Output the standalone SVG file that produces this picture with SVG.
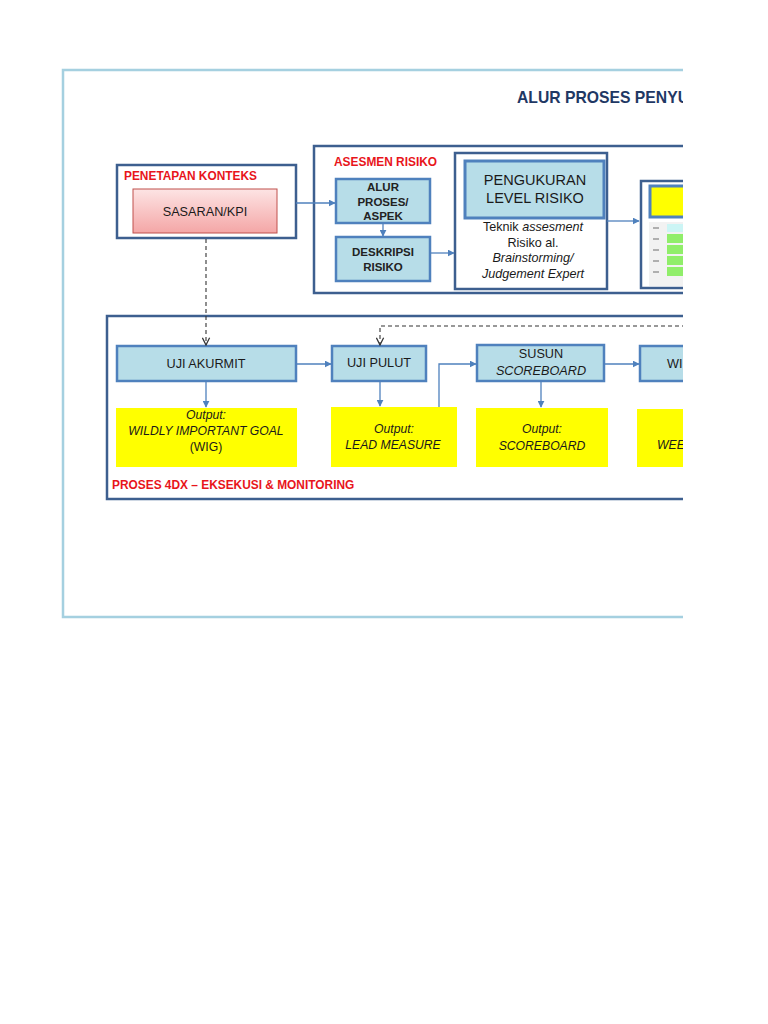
<svg xmlns="http://www.w3.org/2000/svg" width="768" height="1024" viewBox="0 0 768 1024">
<style>
.frame{fill:none;stroke:#a5d0e0;stroke-width:2.5}
.group{fill:#fff;stroke:#3d5f8f;stroke-width:2.5}
.step{fill:#b7dde8;stroke:#4f81bd;stroke-width:2.5}
.out{fill:#ffff00;stroke:none}
.t{font-family:"Liberation Sans",Arial,sans-serif;fill:#1a1a1a;text-anchor:middle}
.s{font-size:12.7px}
.o{font-size:12.2px;font-style:italic}
.red{font-family:"Liberation Sans",Arial,sans-serif;font-weight:bold;fill:#e8151b;font-size:11.9px}
.con{fill:none;stroke:#4f81bd;stroke-width:1.3}
.dash{fill:none;stroke:#333;stroke-width:1.1;stroke-dasharray:4 3}
</style>
<defs>
<marker id="ah" viewBox="0 0 10 10" refX="9" refY="5" markerWidth="7" markerHeight="7" orient="auto" markerUnits="userSpaceOnUse">
<path d="M0,0 L10,5 L0,10 z" fill="#4f81bd"/>
</marker>
<marker id="oh" viewBox="0 0 10 10" refX="9" refY="5" markerWidth="9" markerHeight="9" orient="auto" markerUnits="userSpaceOnUse">
<path d="M1,1 L9,5 L1,9" fill="none" stroke="#333" stroke-width="1.4"/>
</marker>
<linearGradient id="pink" x1="0" y1="0" x2="0" y2="1">
<stop offset="0" stop-color="#fde4e4"/>
<stop offset="1" stop-color="#f4a6a6"/>
</linearGradient>
<clipPath id="cl"><rect x="0" y="0" width="683" height="1024"/></clipPath>
</defs>
<rect width="768" height="1024" fill="#fff"/>
<g clip-path="url(#cl)">
<g id="frame">
<path class="frame" d="M700,70 H63 V617 H700"/>
<text x="517" y="103" textLength="172" lengthAdjust="spacingAndGlyphs" style="font-family:'Liberation Sans',Arial,sans-serif;font-weight:bold;font-size:17px;fill:#1f3864">ALUR PROSES PENYU</text>
</g>

<g id="penetapan">
<rect class="group" x="117" y="165" width="179" height="73"/>
<text x="124" y="180" class="red">PENETAPAN KONTEKS</text>
</g>
<g id="sasaran">
<rect x="133" y="189" width="144" height="44" fill="url(#pink)" stroke="#c0504d" stroke-width="1"/>
<text x="205" y="216" class="t s">SASARAN/KPI</text>
</g>

<g id="asesmen">
<rect class="group" x="314" y="146" width="400" height="147"/>
<text x="334" y="166" class="red">ASESMEN RISIKO</text>
</g>
<g id="alur">
<rect class="step" x="336" y="179" width="94" height="44"/>
<text class="t" style="font-size:11.5px;font-weight:bold;fill:#222"><tspan x="383" y="191">ALUR</tspan><tspan x="383" y="205.5">PROSES/</tspan><tspan x="383" y="220">ASPEK</tspan></text>
</g>
<g id="deskripsi">
<rect class="step" x="336" y="237" width="94" height="44"/>
<text class="t" style="font-size:11.5px;font-weight:bold;fill:#222"><tspan x="383" y="256">DESKRIPSI</tspan><tspan x="383" y="271">RISIKO</tspan></text>
</g>
<g id="pengukuran">
<rect class="group" x="455" y="153" width="152" height="136"/>
<rect x="465" y="161" width="139" height="57" fill="#b7dde8" stroke="#4f81bd" stroke-width="3"/>
<text class="t" style="font-size:14.5px"><tspan x="535" y="185">PENGUKURAN</tspan><tspan x="535" y="203">LEVEL RISIKO</tspan></text>
<text class="t" style="font-size:12.6px"><tspan x="533" y="231">Teknik <tspan font-style="italic">assesment</tspan></tspan><tspan x="533" y="246.5">Risiko al.</tspan><tspan x="533" y="262" font-style="italic">Brainstorming/</tspan><tspan x="533" y="277.5" font-style="italic">Judgement Expert</tspan></text>
</g>
<g id="matriks">
<rect class="group" x="641" y="181" width="80" height="107"/>
<rect x="650" y="186" width="60" height="31" fill="#ffff00" stroke="#4f81bd" stroke-width="3"/>
<rect x="649" y="222" width="40" height="64" fill="#f2f2f2"/>
<rect x="667" y="224" width="20" height="8" fill="#ccf5f5"/>
<rect x="667" y="234" width="20" height="9" fill="#90ee6a"/>
<rect x="667" y="245" width="20" height="9" fill="#90ee6a"/>
<rect x="667" y="256" width="20" height="9" fill="#90ee6a"/>
<rect x="667" y="267" width="20" height="9" fill="#90ee6a"/>
<path d="M653,228 h6 M653,239 h6 M653,250 h6 M653,261 h6 M653,272 h6" stroke="#999" stroke-width="1.5"/>
</g>

<g id="proses4dx">
<rect class="group" x="107" y="316" width="620" height="183"/>
<text x="112" y="489" class="red">PROSES 4DX – EKSEKUSI &amp; MONITORING</text>
</g>
<g id="ujiakurmit">
<rect class="step" x="117" y="346" width="179" height="35"/>
<text x="206" y="368" class="t s">UJI AKURMIT</text>
</g>
<g id="ujipulut">
<rect class="step" x="332" y="346" width="94" height="35"/>
<text x="379" y="367" class="t s">UJI PULUT</text>
</g>
<g id="susun">
<rect class="step" x="477" y="345" width="127" height="36"/>
<text class="t s"><tspan x="541" y="358">SUSUN</tspan><tspan x="541" y="375" font-style="italic">SCOREBOARD</tspan></text>
</g>
<g id="wi">
<rect class="step" x="640" y="346" width="80" height="35"/>
<text x="667" y="368" class="t s" style="text-anchor:start">WI</text>
</g>
<g id="out-wig">
<rect class="out" x="116" y="408" width="181" height="59"/>
<text class="t o"><tspan x="206" y="419">Output:</tspan><tspan x="206" y="435">WILDLY IMPORTANT GOAL</tspan><tspan x="206" y="451" font-style="normal">(WIG)</tspan></text>
</g>
<g id="out-lead">
<rect class="out" x="331" y="407" width="126" height="60"/>
<text class="t o"><tspan x="394" y="433">Output:</tspan><tspan x="393" y="449">LEAD MEASURE</tspan></text>
</g>
<g id="out-score">
<rect class="out" x="476" y="408" width="132" height="59"/>
<text class="t o"><tspan x="542" y="433">Output:</tspan><tspan x="542" y="450">SCOREBOARD</tspan></text>
</g>
<g id="out-wee">
<rect class="out" x="637" y="409" width="80" height="58"/>
<text x="657" y="449" class="t o" style="text-anchor:start">WEE</text>
</g>

<g id="connectors">
<line class="con" x1="296" y1="203" x2="335" y2="203" marker-end="url(#ah)"/>
<line class="con" x1="383" y1="223" x2="383" y2="236" marker-end="url(#ah)"/>
<line class="con" x1="430" y1="253" x2="454" y2="253" marker-end="url(#ah)"/>
<line class="con" x1="607" y1="221" x2="639" y2="221" marker-end="url(#ah)"/>
<path class="dash" d="M206,239 V345" marker-end="url(#oh)"/>
<path class="dash" d="M700,326 H380 V345" marker-end="url(#oh)"/>
<line class="con" x1="296" y1="364" x2="331" y2="364" marker-end="url(#ah)"/>
<line class="con" x1="206" y1="381" x2="206" y2="407" marker-end="url(#ah)"/>
<line class="con" x1="380" y1="381" x2="380" y2="406" marker-end="url(#ah)"/>
<path class="con" d="M439,407 V364 H476" marker-end="url(#ah)"/>
<line class="con" x1="541" y1="381" x2="541" y2="407" marker-end="url(#ah)"/>
<line class="con" x1="604" y1="364" x2="639" y2="364" marker-end="url(#ah)"/>
</g>
</g>
</svg>
